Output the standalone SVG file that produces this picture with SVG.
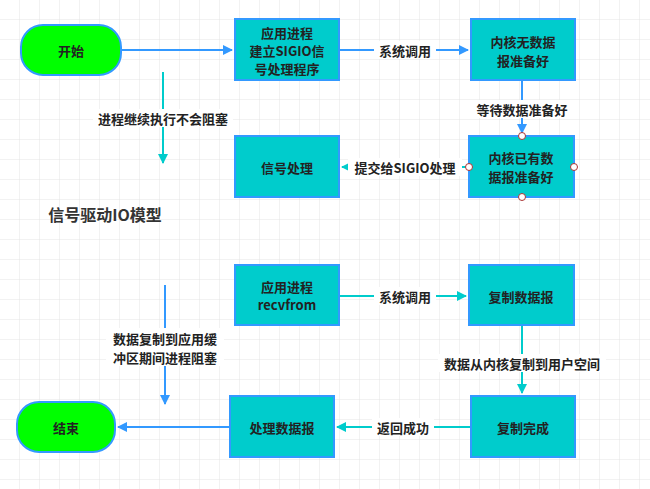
<svg xmlns="http://www.w3.org/2000/svg" width="650" height="489" viewBox="0 0 650 489">
<style>
text{font-family:"Noto Sans CJK SC","Liberation Sans",sans-serif;font-size:13px;font-weight:bold;fill:#222;text-anchor:middle;dominant-baseline:central}
.box{fill:#00CCCC;stroke:#3399FF;stroke-width:2}
.pill{fill:#00FF00;stroke:#3399FF;stroke-width:2}
.b{stroke:#3399FF;stroke-width:2;fill:none}
.t{stroke:#00CCCC;stroke-width:2;fill:none}
.lb{fill:#fff}
.pt{fill:#fff;stroke:#a33;stroke-width:1}
</style>
<defs>
<pattern id="g" width="20" height="20" patternUnits="userSpaceOnUse"><path d="M20 0V20H0" fill="none" stroke="#e4e4e4" stroke-width="1"/></pattern>
<marker id="ab" viewBox="0 0 10 10" refX="9" refY="5" markerWidth="5" markerHeight="5" orient="auto"><path d="M0 0L10 5L0 10z" fill="#3399FF"/></marker>
<marker id="at" viewBox="0 0 10 10" refX="9" refY="5" markerWidth="5" markerHeight="5" orient="auto"><path d="M0 0L10 5L0 10z" fill="#00CCCC"/></marker>
</defs>
<rect width="650" height="489" fill="#fff"/>
<rect width="650" height="489" fill="url(#g)"/>
<g id="connectors">
<path class="b" d="M121 50H232" marker-end="url(#ab)"/>
<path class="b" d="M339 50H468" marker-end="url(#ab)"/>
<rect class="lb" x="374" y="41" width="62" height="18"/><text x="405" y="50">系统调用</text>
<path class="b" d="M522 80V133" marker-end="url(#ab)"/>
<rect class="lb" x="474" y="100" width="96" height="18"/><text x="522" y="109">等待数据准备好</text>
<path class="t" d="M469 167H342" marker-end="url(#at)"/>
<rect class="lb" x="348" y="158" width="114" height="18"/><text x="405" y="167">提交给SIGIO处理</text>
<path class="t" d="M163 72V163" marker-end="url(#at)"/>
<rect class="lb" x="93" y="109" width="140" height="18"/><text x="163" y="118">进程继续执行不会阻塞</text>
<path class="t" d="M339 296H466" marker-end="url(#at)"/>
<rect class="lb" x="374" y="287" width="62" height="18"/><text x="405" y="296">系统调用</text>
<path class="t" d="M522 325V393" marker-end="url(#at)"/>
<rect class="lb" x="438" y="354" width="168" height="18"/><text x="522" y="363">数据从内核复制到用户空间</text>
<path class="t" d="M471 427H337" marker-end="url(#at)"/>
<rect class="lb" x="372" y="418" width="62" height="18"/><text x="403" y="427">返回成功</text>
<path class="b" d="M230 427H118" marker-end="url(#ab)"/>
<path class="b" d="M165 285V404" marker-end="url(#ab)"/>
<rect class="lb" x="106" y="328" width="118" height="38"/><text x="165" y="338">数据复制到应用缓</text><text x="165" y="357">冲区期间进程阻塞</text>
</g>
<g id="start"><rect class="pill" x="21" y="25" width="100" height="50" rx="22"/><text x="71" y="50">开始</text></g>
<g id="n1"><rect class="box" x="235" y="19" width="104" height="61"/><text x="287" y="32">应用进程</text><text x="287" y="50">建立SIGIO信</text><text x="287" y="68">号处理程序</text></g>
<g id="n2"><rect class="box" x="471" y="19" width="104" height="61"/><text x="523" y="41">内核无数据</text><text x="523" y="60">报准备好</text></g>
<g id="n3"><rect class="box" x="469" y="136" width="105" height="61"/><text x="521" y="157">内核已有数</text><text x="521" y="176">据报准备好</text>
<circle class="pt" cx="522" cy="136" r="3.5"/><circle class="pt" cx="469" cy="167" r="3.5"/><circle class="pt" cx="574" cy="167" r="3.5"/><circle class="pt" cx="522" cy="197" r="3.5"/></g>
<g id="n4"><rect class="box" x="235" y="136" width="104" height="61"/><text x="287" y="167">信号处理</text></g>
<g id="title"><text x="105" y="214" style="font-size:16px;fill:#333">信号驱动IO模型</text></g>
<g id="n5"><rect class="box" x="235" y="265" width="104" height="60"/><text x="287" y="286">应用进程</text><text x="287" y="304">recvfrom</text></g>
<g id="n6"><rect class="box" x="469" y="265" width="105" height="60"/><text x="521" y="296">复制数据报</text></g>
<g id="n7"><rect class="box" x="471" y="396" width="104" height="61"/><text x="523" y="427">复制完成</text></g>
<g id="n8"><rect class="box" x="230" y="396" width="104" height="61"/><text x="282" y="427">处理数据报</text></g>
<g id="end"><rect class="pill" x="17" y="402" width="98" height="50" rx="22"/><text x="66" y="427">结束</text></g>
</svg>
